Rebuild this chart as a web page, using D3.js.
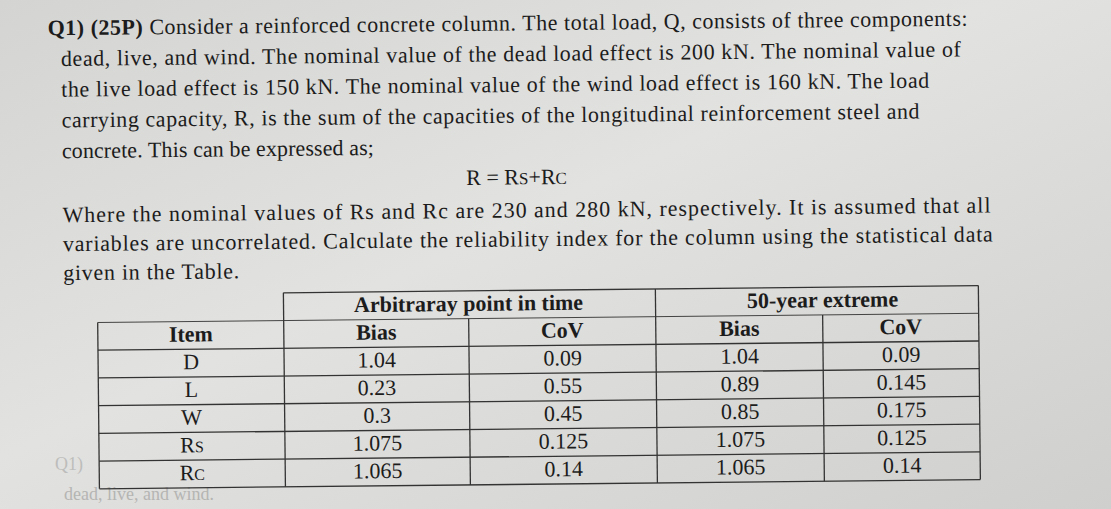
<!DOCTYPE html>
<html><head><meta charset="utf-8">
<script src="https://cdn.jsdelivr.net/npm/d3@7"></script>
<style>body{margin:0;overflow:hidden}svg{display:block}</style>
</head><body>
<svg id="c" width="1111" height="509"></svg>
<script>
const paraLines = [
  ["Q1) (25P)", " Consider a reinforced concrete column. The total load, Q, consists of three components:"],
  ["", "dead, live, and wind. The nominal value of the dead load effect is 200 kN. The nominal value of"],
  ["", "the live load effect is 150 kN. The nominal value of the wind load effect is 160 kN. The load"],
  ["", "carrying capacity, R, is the sum of the capacities of the longitudinal reinforcement steel and"],
  ["", "concrete. This can be expressed as;"]
];
const paraWidths = [920, 900, 868, 858, 312];
const para2 = [
  "Where the nominal values of Rs and Rc are 230 and 280 kN, respectively. It is assumed that all",
  "variables are uncorrelated. Calculate the reliability index for the column using the statistical data",
  "given in the Table."
];
const para2Widths = [928, 930, 176];
const groups = ["Arbitraray point in time", "50-year extreme"];
const subHeads = ["Item", "Bias", "CoV", "Bias", "CoV"];
const items = ["D", "L", "W", "Rs", "Rc"];
const biasArb = ["1.04", "0.23", "0.3", "1.075", "1.065"];
const covArb = ["0.09", "0.55", "0.45", "0.125", "0.14"];
const bias50 = ["1.04", "0.89", "0.85", "1.075", "1.065"];
const cov50 = ["0.09", "0.145", "0.175", "0.125", "0.14"];

const svg = d3.select("#c");
const defs = svg.append("defs");
const g0 = defs.append("linearGradient").attr("id", "bg").attr("x1", 0).attr("x2", 1).attr("y1", 0).attr("y2", 1);
g0.append("stop").attr("offset", "0%").attr("stop-color", "#d4d4d2");
g0.append("stop").attr("offset", "45%").attr("stop-color", "#e2e2e0");
g0.append("stop").attr("offset", "100%").attr("stop-color", "#cfcfcd");
svg.append("rect").attr("width", 1111).attr("height", 509).attr("fill", "url(#bg)");

// faint bleed-through text bottom-left (behind table)
svg.append("text").attr("x", 55).attr("y", 470).attr("fill", "#bdbdbb").style("font-family", "'Liberation Serif', serif")
  .style("font-size", "18px").text("Q1)");
svg.append("text").attr("x", 64).attr("y", 500).attr("fill", "#b5b5b3").style("font-family", "'Liberation Serif', serif")
  .style("font-size", "18px").text("dead, live, and wind.");

const g = svg.append("g").attr("transform", "rotate(-0.6,555,255)")
  .style("font-family", "'Liberation Serif', 'DejaVu Serif', serif")
  .style("font-size", "22px").attr("fill", "#1c1c1c");

const lineY = d3.scaleLinear().domain([0, 4]).range([30, 153]);
paraLines.forEach((l, i) => {
  const t = g.append("text").attr("x", i === 0 ? 50 : 63).attr("y", lineY(i))
    .attr("textLength", paraWidths[i]).attr("lengthAdjust", "spacing");
  if (l[0]) t.append("tspan").attr("font-weight", "bold").text(l[0]);
  t.append("tspan").text(l[1]);
});
const eq = g.append("text").attr("x", 467).attr("y", 184);
eq.append("tspan").text("R = R");
eq.append("tspan").attr("font-size", "17px").text("S");
eq.append("tspan").text("+R");
eq.append("tspan").attr("font-size", "17px").text("C");

const p2Y = d3.scaleLinear().domain([0, 2]).range([217, 275]);
para2.forEach((s, i) => g.append("text").attr("x", 63).attr("y", p2Y(i)).text(s)
  .attr("textLength", para2Widths[i]).attr("lengthAdjust", "spacing"));

// table
const colX = d3.scaleOrdinal().domain(d3.range(6)).range([97, 283, 468, 655, 822, 978]);
const rowY = d3.scaleLinear().domain([0, 7]).range([290, 484]);
const tb = g.append("g").attr("stroke", "#333").attr("stroke-width", 1.3);
tb.append("line").attr("x1", colX(1)).attr("x2", colX(5)).attr("y1", rowY(0)).attr("y2", rowY(0));
d3.range(1, 8).forEach(r => tb.append("line").attr("x1", colX(0)).attr("x2", colX(5))
  .attr("y1", rowY(r)).attr("y2", rowY(r)).attr("stroke-width", r === 1 ? 0.9 : 1.3));
[0, 1, 3, 5].forEach(c => tb.append("line").attr("x1", colX(c)).attr("x2", colX(c))
  .attr("y1", c === 0 ? rowY(1) : rowY(0)).attr("y2", rowY(7)));
[2, 4].forEach(c => tb.append("line").attr("x1", colX(c)).attr("x2", colX(c))
  .attr("y1", rowY(1)).attr("y2", rowY(7)));

const mid = c => (colX(c) + colX(c + 1)) / 2;
groups.forEach((s, i) => g.append("text").attr("x", mid(i * 2 + 1) + (colX(i * 2 + 2) - colX(i * 2 + 1)) / 2)
  .attr("y", rowY(0) + 20).attr("text-anchor", "middle").attr("font-weight", "bold").text(s));
subHeads.forEach((s, i) => g.append("text").attr("x", mid(i)).attr("y", rowY(1) + 20)
  .attr("text-anchor", "middle").attr("font-weight", "bold").text(s));
const cols = [items, biasArb, covArb, bias50, cov50];
cols.forEach((arr, c) => arr.forEach((v, r) => {
  const t = g.append("text").attr("x", mid(c)).attr("y", rowY(r + 2) + 20).attr("text-anchor", "middle");
  if (c === 0 && v.length === 2) {
    t.append("tspan").text(v[0]);
    t.append("tspan").attr("font-size", "16px").text(v[1].toUpperCase());
  } else t.text(v);
}));
</script>
</body></html>
